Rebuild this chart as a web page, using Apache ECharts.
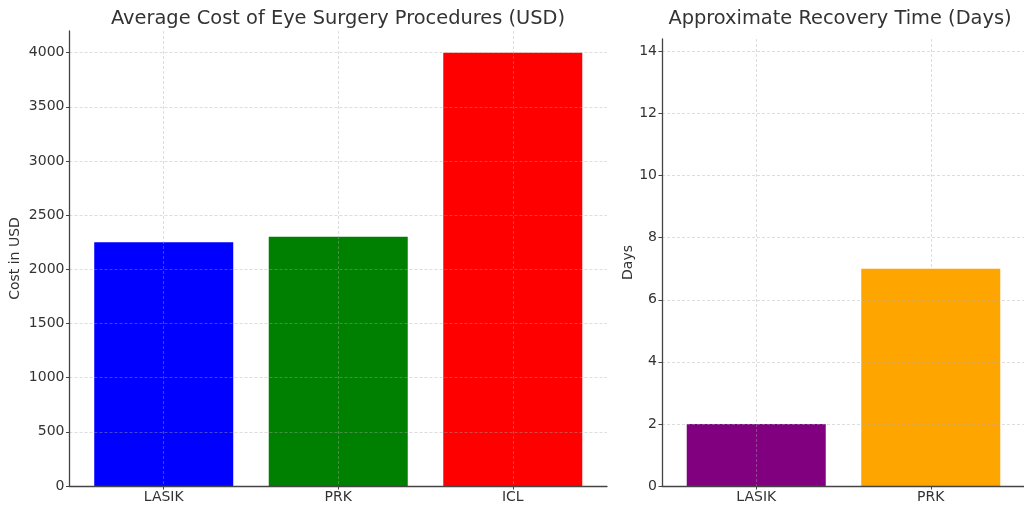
<!DOCTYPE html>
<html>
<head>
<meta charset="utf-8">
<script src="https://cdn.jsdelivr.net/npm/echarts@6/dist/echarts.min.js"></script>
<style>
  html, body { margin: 0; padding: 0; background: #fff; }
  #chart { width: 1024px; height: 513px; }
</style>
</head>
<body>
<div id="chart"></div>
<script>
// data
const procedures = ['LASIK', 'PRK', 'ICL'];
const costUSD = [2250, 2300, 4000];
const costColors = ['#0000ff', '#008000', '#ff0000'];
const costTicks = [0, 500, 1000, 1500, 2000, 2500, 3000, 3500, 4000];

const recoveryProcedures = ['LASIK', 'PRK'];
const recoveryDays = [2, 7];
const recoveryColors = ['#800080', '#ffa500'];
const dayTicks = [0, 2, 4, 6, 8, 10, 12, 14];

const FONT = 'DejaVu Sans';
const gridLine = { show: true, lineStyle: { color: 'rgba(170,170,170,0.5)', type: [3, 2], width: 0.8 } };

function idx(arr) {
    let temp = [];
    for (var i = 0; i < arr.length; i++) temp.push(i);
    return temp;
}
function barData(values, colors) {
    let temp = [];
    for (var i = 0; i < values.length; i++) {
        temp.push({ value: [i, values[i]], itemStyle: { color: colors[i] } });
    }
    return temp;
}
function catAxis(gridIndex, names) {
    const ticks = idx(names);
    return {
        type: 'value', gridIndex: gridIndex, z: 5,
        min: -0.54, max: names.length - 1 + 0.54,
        axisLine: { show: true, onZero: false, lineStyle: { color: '#444', width: 1.3 } },
        axisTick: { show: true, length: 3.5, customValues: ticks, lineStyle: { color: '#444' } },
        axisLabel: {
            customValues: ticks, margin: 4, color: '#333', fontFamily: FONT, fontSize: 14,
            formatter: function (v) { return names[Math.round(v)] || ''; }
        },
        splitLine: Object.assign({ customValues: ticks }, gridLine)
    };
}
function valAxis(gridIndex, max, ticks, name, nameGap) {
    return {
        type: 'value', gridIndex: gridIndex, z: 5,
        min: 0, max: max,
        name: name, nameLocation: 'middle', nameRotate: 90, nameGap: nameGap,
        nameMoveOverlap: false,
        nameTextStyle: { color: '#333', fontFamily: FONT, fontSize: 14 },
        axisLine: { show: true, onZero: false, lineStyle: { color: '#444', width: 1.3 } },
        axisTick: { show: true, length: 3.5, customValues: ticks, lineStyle: { color: '#444' } },
        axisLabel: {
            customValues: ticks, margin: 5, color: '#333', fontFamily: FONT, fontSize: 14,
            formatter: function (v) { return String(v); }
        },
        splitLine: Object.assign({ customValues: ticks }, gridLine)
    };
}

const chart = echarts.init(document.getElementById('chart'), null, { renderer: 'canvas' });
const option = {
    backgroundColor: '#fff',
    animation: false,
    title: [
        { text: 'Average Cost of Eye Surgery Procedures (USD)', left: 333, top: 4, textAlign: 'center',
          textStyle: { fontFamily: FONT, fontSize: 19.4, fontWeight: 'normal', color: '#333' } },
        { text: 'Approximate Recovery Time (Days)', left: 835, top: 4, textAlign: 'center',
          textStyle: { fontFamily: FONT, fontSize: 19.4, fontWeight: 'normal', color: '#333' } }
    ],
    grid: [
        { left: 69.5, top: 31, width: 537.5, height: 455, containLabel: false, outerBoundsMode: 'none' },
        { left: 662, top: 39, width: 363, height: 447, containLabel: false, outerBoundsMode: 'none' }
    ],
    xAxis: [catAxis(0, procedures), catAxis(1, recoveryProcedures)],
    yAxis: [
        valAxis(0, 4200, costTicks, 'Cost in USD', 47),
        valAxis(1, 14.4, dayTicks, 'Days', 27)
    ],
    series: [
        { type: 'bar', xAxisIndex: 0, yAxisIndex: 0, barWidth: 139, data: barData(costUSD, costColors) },
        { type: 'bar', xAxisIndex: 1, yAxisIndex: 1, barWidth: 139, data: barData(recoveryDays, recoveryColors) }
    ]
};
chart.setOption(option);
</script>
</body>
</html>
